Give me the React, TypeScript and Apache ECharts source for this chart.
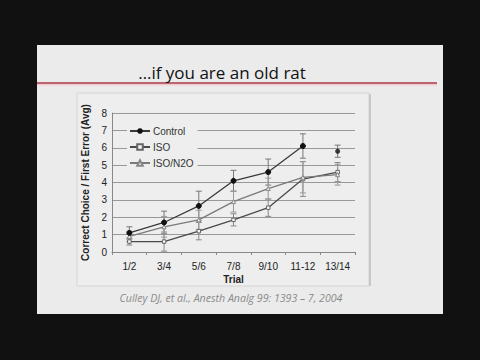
import React, { useEffect, useRef } from "react";
import * as echarts from "echarts";

const trials = ["1/2", "3/4", "5/6", "7/8", "9/10", "11-12", "13/14"];
const yTicks = [0, 1, 2, 3, 4, 5, 6, 7, 8];
const controlVals = [1.1, 1.7, 2.65, 4.1, 4.6, 6.1, 5.8];
const controlErr = [0.35, 0.65, 0.85, 0.6, 0.75, 0.7, 0.35];
const isoVals = [0.6, 0.6, 1.2, 1.85, 2.55, 4.2, 4.6];
const isoErr = [0.2, 0.55, 0.5, 0.35, 0.5, 1.0, 0.55];
const isoN2oVals = [0.9, 1.45, 1.85, 2.9, 3.65, 4.3, 4.45];
const isoN2oErr = [0.3, 0.6, 0.55, 0.6, 0.6, 0.9, 0.6];

const titleText = "…if you are an old rat";
const citation = "Culley DJ, et al., Anesth Analg 99: 1393 – 7, 2004";

function errSeries(vals: number[], errs: number[], color: string) {
  return {
    type: "custom",
    silent: true,
    z: 1,
    data: vals.map((v, i) => [i, v - errs[i], v + errs[i]]),
    renderItem: (params: any, api: any) => {
      const lo = api.coord([api.value(0), api.value(1)]);
      const hi = api.coord([api.value(0), api.value(2)]);
      const w = 3;
      const st = { stroke: color, lineWidth: 1 };
      return {
        type: "group",
        children: [
          { type: "line", shape: { x1: lo[0], y1: lo[1], x2: hi[0], y2: hi[1] }, style: st },
          { type: "line", shape: { x1: lo[0] - w, y1: lo[1], x2: lo[0] + w, y2: lo[1] }, style: st },
          { type: "line", shape: { x1: hi[0] - w, y1: hi[1], x2: hi[0] + w, y2: hi[1] }, style: st },
        ],
      };
    },
  };
}

export default function App() {
  const ref = useRef<HTMLDivElement>(null);
  useEffect(() => {
    if (!ref.current) return;
    const chart = echarts.init(ref.current, null, { renderer: "svg" });
    const axisFont = { fontFamily: "Liberation Sans", fontSize: 10, color: "#222" };
    chart.setOption({
      animation: false,
      backgroundColor: "#111111",
      graphic: [
        { type: "rect", z: -10, shape: { x: 37, y: 45, width: 406, height: 269 }, style: { fill: "#ebebeb" } },
        { type: "line", z: -9, shape: { x1: 37, y1: 84, x2: 437, y2: 84 }, style: { stroke: "#f3c9cf", lineWidth: 3 } },
        { type: "line", z: -9, shape: { x1: 37, y1: 83, x2: 437, y2: 83 }, style: { stroke: "#a8404e", lineWidth: 1.5 } },
        { type: "rect", z: -9, shape: { x: 77, y: 93, width: 292, height: 193 }, style: { fill: "#eeeeee", stroke: "#d4d4d4", lineWidth: 1 } },
        { type: "line", z: -8, shape: { x1: 370, y1: 94, x2: 370, y2: 286 }, style: { stroke: "#c8c8c8", lineWidth: 2 } },
        {
          type: "text", z: 5, x: 222, y: 72,
          style: { text: titleText, fontFamily: "Open Sans", fontSize: 17, fill: "#111", align: "center", verticalAlign: "middle" },
        },
        {
          type: "text", z: 5, x: 231, y: 298,
          style: { text: citation, fontFamily: "Open Sans", fontStyle: "italic", fontSize: 10.6, fill: "#8a8a8a", align: "center", verticalAlign: "middle" },
        },
      ],
      grid: { left: 112, right: 125, top: 113, bottom: 108 },
      legend: {
        left: 127, top: 124, orient: "vertical", itemGap: 6, itemWidth: 20, itemHeight: 7,
        backgroundColor: "#eeeeee", padding: [2, 4, 2, 2],
        textStyle: { fontFamily: "Liberation Sans", fontSize: 10, color: "#333", padding: [0, 0, 0, -2] },
        data: ["Control", "ISO", "ISO/N2O"],
      },
      xAxis: {
        type: "category", data: trials, boundaryGap: true,
        name: "Trial", nameLocation: "middle", nameGap: 22,
        nameTextStyle: { fontFamily: "Liberation Sans", fontSize: 10, fontWeight: "bold", color: "#222" },
        axisLine: { lineStyle: { color: "#888" } },
        axisTick: { show: true, length: 3, interval: 0, lineStyle: { color: "#888" } },
        axisLabel: { ...axisFont, margin: 9, interval: 0 },
      },
      yAxis: {
        type: "value", min: 0, max: 8, interval: 1,
        name: "Correct Choice / First Error (Avg)", nameLocation: "middle", nameGap: 19,
        nameTextStyle: { fontFamily: "Liberation Sans", fontSize: 10, fontWeight: "bold", color: "#222" },
        axisLine: { show: true, lineStyle: { color: "#888" } },
        axisTick: { show: false },
        axisLabel: { ...axisFont, margin: 5, formatter: (v: number) => (yTicks.includes(v) ? String(v) : "") },
        splitLine: { lineStyle: { color: "#999", width: 1 } },
      },
      series: [
        errSeries(controlVals, controlErr, "#777"),
        errSeries(isoVals, isoErr, "#888"),
        errSeries(isoN2oVals, isoN2oErr, "#999"),
        {
          name: "Control", type: "line", z: 4,
          data: controlVals.map((v, i) => (i < controlVals.length - 1 ? v : "-")),
          symbol: "circle", symbolSize: 5,
          lineStyle: { color: "#3a3a3a", width: 1.3 },
          itemStyle: { color: "#111", borderColor: "#111" },
        },
        {
          name: "Control", type: "scatter", z: 4,
          data: controlVals.map((v, i) => (i === controlVals.length - 1 ? v : "-")),
          symbol: "circle", symbolSize: 5,
          itemStyle: { color: "#111" },
        },
        {
          name: "ISO", type: "line", z: 3, data: isoVals,
          symbol: "rect", symbolSize: 3.5,
          lineStyle: { color: "#4a4a4a", width: 1.3 },
          itemStyle: { color: "#f4f4f4", borderColor: "#666", borderWidth: 1 },
        },
        {
          name: "ISO/N2O", type: "line", z: 3, data: isoN2oVals,
          symbol: "triangle", symbolSize: 4,
          lineStyle: { color: "#7a7a7a", width: 1.3 },
          itemStyle: { color: "#f4f4f4", borderColor: "#888", borderWidth: 1 },
        },
      ],
    });
    return () => chart.dispose();
  }, []);
  return <div ref={ref} style={{ position: "fixed", left: 0, top: 0, width: 480, height: 360 }} />;
}
